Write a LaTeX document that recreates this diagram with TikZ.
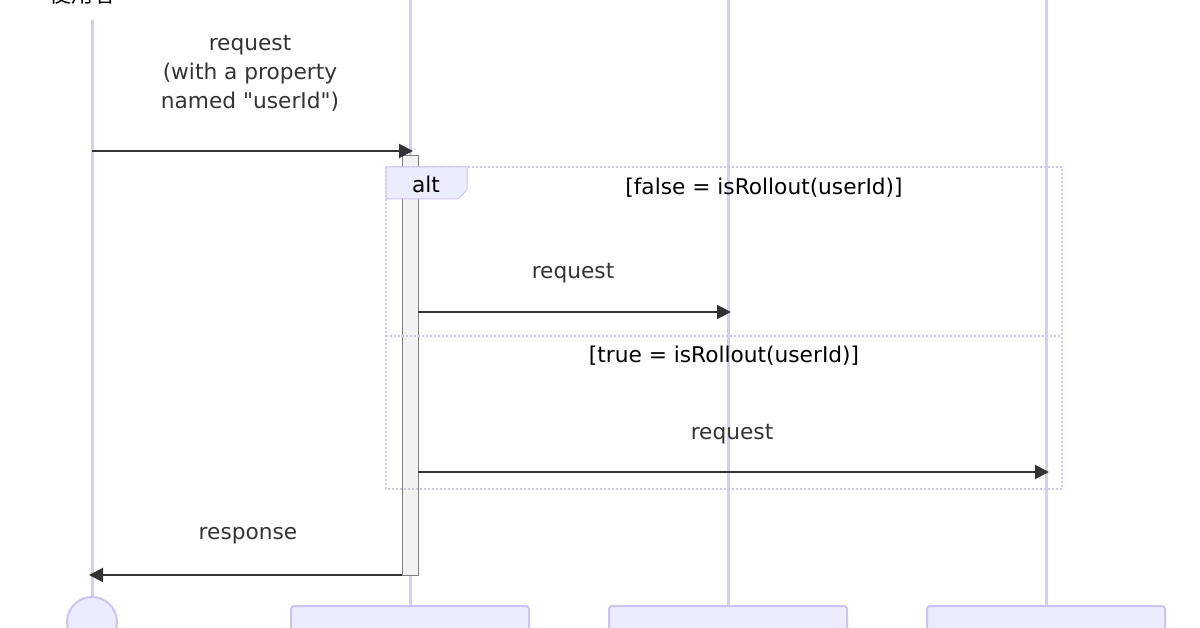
\documentclass[tikz,border=0pt]{standalone}
\usepackage{fontspec}
\defaultfontfeatures[\rmfamily]{Scale=1}
\setmainfont{DejaVu Sans}
\newfontfamily\cjk{Noto Sans CJK SC}
\usetikzlibrary{arrows.meta}
\definecolor{lifec}{HTML}{D7CCF2}
\definecolor{actfill}{HTML}{ECECFF}
\definecolor{actdraw}{HTML}{CCC3F0}
\begin{document}
\begin{tikzpicture}[x=1pt,y=-1pt,
  life/.style={draw=lifec,line width=3pt},
  msg/.style={draw=black!80,line width=2pt,-{Triangle[length=14pt,width=14pt]}},
  lbl/.style={font=\fontsize{21.7}{29}\selectfont,text=black!80,align=center},
  frame/.style={draw=actdraw,line width=2.5pt,dash pattern=on 2pt off 2pt},
  actor/.style={draw=actdraw,fill=actfill,line width=2pt,rounded corners=3pt}]
\useasboundingbox (0,0) rectangle (1200,628);
\clip (0,0) rectangle (1200,628);
\node[anchor=base west,font=\cjk\fontsize{22}{26}\selectfont] (user) at (46,3) {使用者};
\coordinate (l1t) at (92,20); \coordinate (l1b) at (92,600);
\coordinate (l2t) at (410,0); \coordinate (l2b) at (410,605);
\coordinate (l3t) at (728,0); \coordinate (l3b) at (728,605);
\coordinate (l4t) at (1046,0); \coordinate (l4b) at (1046,605);
\draw[life] (l1t)--(l1b); \draw[life] (l2t)--(l2b);
\draw[life] (l3t)--(l3b); \draw[life] (l4t)--(l4b);
\node[draw=actdraw,fill=actfill,line width=2pt,circle,minimum size=50pt] (c1) at (92,622) {};
\node[actor,minimum width=238pt,minimum height=60pt,anchor=north] (a2) at (410,605) {};
\node[actor,minimum width=238pt,minimum height=60pt,anchor=north] (a3) at (728,605) {};
\node[actor,minimum width=238pt,minimum height=60pt,anchor=north] (a4) at (1046,605) {};
% activation
\node[draw=black!50,fill=black!5,line width=1pt,minimum width=16pt,minimum height=420pt,inner sep=0pt,anchor=north] (act) at (410,155) {};
% alt frame
\draw[frame] (386,167) rectangle (1062,489);
\draw[frame] (386,336) -- (1062,336);
\draw[draw=actdraw,fill=actfill,line width=1pt] (386,167) -- (467,167) -- (467,190) -- (458,199) -- (386,199) -- cycle;
\node[lbl,text=black] (alt) at (426,184) {alt};
\node[lbl,text=black] (c1t) at (764,188) {[false = isRollout(userId)]};
\node[lbl,text=black] (c2t) at (724,356) {[true = isRollout(userId)]};
% messages
\coordinate (m1a) at (92,151); \coordinate (m1b) at (413,151);
\draw[msg] (m1a) -- (m1b);
\node[lbl] (t1) at (250,73) {request\\(with a property\\named "userId")};
\coordinate (m2a) at (418,312); \coordinate (m2b) at (731,312);
\draw[msg] (m2a) -- (m2b);
\node[lbl] (t2) at (573,273) {request};
\coordinate (m3a) at (418,472); \coordinate (m3b) at (1049,472);
\draw[msg] (m3a) -- (m3b);
\node[lbl] (t3) at (732,434) {request};
\coordinate (m4a) at (402,575); \coordinate (m4b) at (89,575);
\draw[msg] (m4a) -- (m4b);
\node[lbl] (t4) at (248,536) {response};
\end{tikzpicture}
\end{document}
